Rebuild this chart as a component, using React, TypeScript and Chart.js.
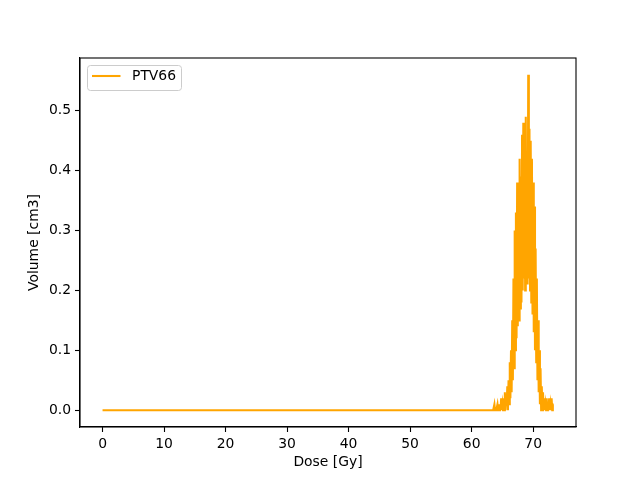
import React, { useEffect, useRef } from 'react';
import Chart, { ChartConfiguration, Plugin } from 'chart.js/auto';

// differential DVH for PTV66, dose in Gy, volume in cm3
const seriesLabel = 'PTV66';

const doseStart = [0.0];
const volumeStart = [0.0];

const doses = [
  63.0, 63.1, 63.2, 63.3, 63.4, 63.5, 63.6, 63.7, 63.8, 63.9,
  64.0, 64.1, 64.2, 64.3, 64.4, 64.5, 64.6, 64.7, 64.8, 64.9,
  65.0, 65.1, 65.2, 65.3, 65.4, 65.5, 65.6, 65.7, 65.8, 65.9,
  66.0, 66.1, 66.2, 66.3, 66.4, 66.5, 66.6, 66.7, 66.8, 66.9,
  67.0, 67.1, 67.2, 67.3, 67.4, 67.5, 67.6, 67.7, 67.8, 67.9,
  68.0, 68.1, 68.2, 68.3, 68.4, 68.5, 68.6, 68.7, 68.8, 68.9,
  69.0, 69.1, 69.2, 69.3, 69.4, 69.5, 69.6, 69.7, 69.8, 69.9,
  70.0, 70.1, 70.2, 70.3, 70.4, 70.5, 70.6, 70.7, 70.8, 70.9,
  71.0, 71.1, 71.2, 71.3, 71.4, 71.5, 71.6, 71.7, 71.8, 71.9,
  72.0, 72.1, 72.2, 72.3, 72.4, 72.5, 72.6, 72.7, 72.8, 72.9,
  73.0, 73.1, 73.2, 73.3,
];

const volumes = [
  0, 0, 0, 0, 0, 0, 0, 0.01, 0, 0,
  0, 0, 0.01, 0, 0.01, 0, 0.01, 0, 0.02, 0,
  0.01, 0, 0.02, 0, 0.03, 0, 0.02, 0.01, 0.04, 0,
  0.05, 0.01, 0.08, 0.02, 0.1, 0.03, 0.15, 0.05, 0.22, 0.07,
  0.3, 0.1, 0.33, 0.12, 0.38, 0.14, 0.36, 0.15, 0.42, 0.17,
  0.39, 0.18, 0.46, 0.2, 0.48, 0.22, 0.44, 0.2, 0.49, 0.23,
  0.43, 0.21, 0.56, 0.22, 0.47, 0.2, 0.45, 0.18, 0.42, 0.16,
  0.38, 0.13, 0.34, 0.1, 0.27, 0.08, 0.22, 0.05, 0.15, 0.03,
  0.1, 0.01, 0.07, 0, 0.04, 0, 0.03, 0, 0.02, 0,
  0.01, 0, 0.02, 0, 0.01, 0, 0.02, 0, 0.01, 0,
  0.02, 0, 0.01, 0.01,
];

const xTicks = [0, 10, 20, 30, 40, 50, 60, 70];
const yTicks = [0.0, 0.1, 0.2, 0.3, 0.4, 0.5];

const FONT = 'DejaVu Sans';
const LINE_W = 2.08;

// matplotlib-like frame and in-axes legend
const framePlugin: Plugin<'line'> = {
  id: 'frame',
  afterDraw(chart) {
    const { ctx, chartArea } = chart;
    ctx.save();
    ctx.strokeStyle = '#000';
    ctx.lineWidth = 1.1;
    ctx.strokeRect(chartArea.left, chartArea.top, chartArea.right - chartArea.left, chartArea.bottom - chartArea.top);

    // legend box
    const bx = chartArea.left + 7.5;
    const by = chartArea.top + 7.5;
    const bw = 94;
    const bh = 25;
    ctx.fillStyle = 'rgba(255,255,255,0.8)';
    ctx.strokeStyle = '#cccccc';
    ctx.lineWidth = 1;
    ctx.beginPath();
    ctx.roundRect(bx, by, bw, bh, 3);
    ctx.fill();
    ctx.stroke();

    ctx.strokeStyle = '#FFA500';
    ctx.lineWidth = LINE_W;
    ctx.beginPath();
    ctx.moveTo(bx + 4.5, by + 10.5);
    ctx.lineTo(bx + 33, by + 10.5);
    ctx.stroke();

    ctx.fillStyle = '#000';
    ctx.font = `13.9px "${FONT}"`;
    ctx.textBaseline = 'middle';
    ctx.textAlign = 'left';
    ctx.fillText(seriesLabel, bx + 44.5, by + 11);
    ctx.restore();
  },
};

const App = () => {
  const chartRef = useRef<HTMLCanvasElement | null>(null);
  const chartInstance = useRef<Chart | null>(null);

  useEffect(() => {
    if (chartInstance.current) {
      chartInstance.current.destroy();
    }
    if (!chartRef.current) return;
    const ctx = chartRef.current.getContext('2d');
    if (!ctx) return;

    const allDoses = [...doseStart, ...doses];
    const allVolumes = [...volumeStart, ...volumes];
    const points = allDoses.map((d, i) => ({ x: d, y: allVolumes[i] }));

    const config: ChartConfiguration<'line', { x: number; y: number }[]> = {
      type: 'line',
      data: {
        datasets: [
          {
            label: seriesLabel,
            data: points,
            borderColor: '#FFA500',
            borderWidth: LINE_W,
            pointRadius: 0,
            tension: 0,
            fill: false,
          },
        ],
      },
      options: {
        responsive: false,
        animation: false,
        devicePixelRatio: 1,
        layout: { padding: { top: 58, right: 64, left: 0, bottom: 0 } },
        plugins: {
          legend: { display: false },
          tooltip: { enabled: false },
        },
        scales: {
          x: {
            type: 'linear',
            min: -3.665,
            max: 76.965,
            afterFit: (scale) => {
              scale.height = 53;
            },
            afterBuildTicks: (scale) => {
              scale.ticks = xTicks.map((v) => ({ value: v }));
            },
            grid: { drawOnChartArea: false, drawTicks: true, tickLength: 5, color: '#000', tickWidth: 1.1 },
            border: { display: true, color: '#000', width: 1.1 },
            ticks: {
              color: '#000',
              font: { family: FONT, size: 13.9 },
              padding: 4,
              maxRotation: 0,
              autoSkip: false,
              callback: (v) => String(v),
            },
            title: {
              display: true,
              text: 'Dose [Gy]',
              color: '#000',
              font: { family: FONT, size: 13.9 },
              padding: { top: 0, bottom: 9 },
            },
          },
          y: {
            type: 'linear',
            min: -0.028,
            max: 0.588,
            afterFit: (scale) => {
              scale.width = 80;
            },
            afterBuildTicks: (scale) => {
              scale.ticks = yTicks.map((v) => ({ value: v }));
            },
            grid: { drawOnChartArea: false, drawTicks: true, tickLength: 5, color: '#000', tickWidth: 1.1 },
            border: { display: true, color: '#000', width: 1.1 },
            ticks: {
              color: '#000',
              font: { family: FONT, size: 13.9 },
              padding: 4,
              autoSkip: false,
              callback: (v) => Number(v).toFixed(1),
            },
            title: {
              display: true,
              text: 'Volume [cm3]',
              color: '#000',
              font: { family: FONT, size: 13.9 },
              padding: { top: 26, bottom: 0 },
            },
          },
        },
      },
      plugins: [framePlugin],
    };

    chartInstance.current = new Chart(ctx, config);

    return () => {
      if (chartInstance.current) {
        chartInstance.current.destroy();
      }
    };
  }, []);

  return (
    <canvas
      ref={chartRef}
      width={640}
      height={480}
      style={{ display: 'block', position: 'absolute', left: 0, top: 0, background: '#fff' }}
    />
  );
};

export default App;
